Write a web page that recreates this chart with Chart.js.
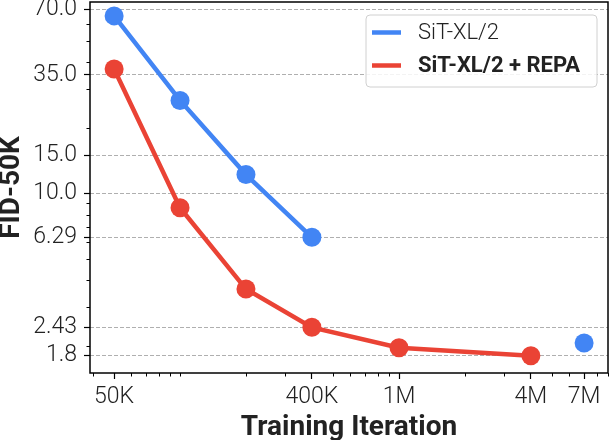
<!DOCTYPE html>
<html>
<head>
<meta charset="utf-8">
<script src="https://cdn.jsdelivr.net/npm/chart.js@4.4.1/dist/chart.umd.min.js"></script>
<style>
  html, body { margin: 0; padding: 0; background: #fff; }
  #wrap { width: 612px; height: 440px; }
</style>
</head>
<body>
<div id="wrap"><canvas id="fidChart"></canvas></div>
<script>
// values
const sitIters = [50000, 100000, 200000, 400000];
const sitFid = [65.2, 26.7, 12.2, 6.29];
const sitLongIters = [7000000];
const sitLongFid = [2.06];
const repaIters = [50000, 100000, 200000, 400000, 1000000, 4000000];
const repaFid = [37.2, 8.6, 3.64, 2.43, 1.96, 1.8];

const seriesNames = ['SiT-XL/2', 'SiT-XL/2 + REPA'];
const blue = '#4285F4';
const red = '#EA4335';

const yTickValues = [1.8, 2.43, 6.29, 10, 15, 35, 70];
const yTickLabels = ['1.8', '2.43', '6.29', '10.0', '15.0', '35.0', '70.0'];
const xTickValues = [50000, 400000, 1000000, 4000000, 7000000];
const xTickLabels = ['50K', '400K', '1M', '4M', '7M'];

const yMin = 1.5, yMax = 75.5;
const xMin = 38800, xMax = 9000000;

const textColor = '#222';
const fontFamily = 'Roboto, "DejaVu Sans", sans-serif';

function toPoints(xs, ys) {
    return xs.map((x, i) => ({ x: x, y: ys[i] }));
}

// log minor ticks (2..9 per decade), like matplotlib
function minorTicks(min, max, majors) {
    const out = [];
    for (let d = Math.floor(Math.log10(min)); d <= Math.ceil(Math.log10(max)); d++) {
        for (let m = 1; m <= 9; m++) {
            const v = m * Math.pow(10, d);
            if (v >= min && v <= max && !majors.includes(v)) out.push(v);
        }
    }
    return out;
}

const frameAndTicks = {
    id: 'frameAndTicks',
    afterDraw(chart) {
        const { ctx, chartArea } = chart;
        const xs = chart.scales.x, ys = chart.scales.y;
        ctx.save();
        ctx.strokeStyle = '#000';
        ctx.lineWidth = 1;
        ctx.beginPath();
        minorTicks(xMin, xMax, xTickValues).forEach(v => {
            const px = Math.round(xs.getPixelForValue(v)) + 0.5;
            ctx.moveTo(px, chartArea.bottom);
            ctx.lineTo(px, chartArea.bottom + 3.5);
        });
        minorTicks(yMin, yMax, yTickValues).forEach(v => {
            const py = Math.round(ys.getPixelForValue(v)) + 0.5;
            ctx.moveTo(chartArea.left, py);
            ctx.lineTo(chartArea.left - 3.5, py);
        });
        ctx.stroke();
        ctx.lineWidth = 1.5;
        ctx.strokeRect(chartArea.left, chartArea.top, chartArea.right - chartArea.left, chartArea.bottom - chartArea.top);
        ctx.restore();
    }
};

const legendBox = {
    id: 'legendBox',
    afterDraw(chart) {
        const { ctx, chartArea } = chart;
        const w = 231, h = 72;
        const bx = chartArea.right - 11 - w, by = chartArea.top + 13;
        ctx.save();
        ctx.beginPath();
        ctx.roundRect(bx, by, w, h, 4);
        ctx.fillStyle = 'rgba(255,255,255,0.85)';
        ctx.fill();
        ctx.strokeStyle = '#d0d0d0';
        ctx.lineWidth = 1;
        ctx.stroke();
        const colors = [blue, red];
        const weights = ['300', 'bold'];
        seriesNames.forEach((name, i) => {
            const cy = by + 17.5 + i * 33;
            ctx.strokeStyle = colors[i];
            ctx.lineWidth = 4.5;
            ctx.beginPath();
            ctx.moveTo(bx + 6, cy);
            ctx.lineTo(bx + 35, cy);
            ctx.stroke();
            ctx.fillStyle = textColor;
            ctx.font = weights[i] + ' 22px ' + fontFamily;
            ctx.textBaseline = 'middle';
            ctx.textAlign = 'left';
            ctx.fillText(name, bx + 52, cy + 1);
        });
        ctx.restore();
    }
};

window.onload = () => {
    const ctx = document.getElementById('fidChart').getContext('2d');
    new Chart(ctx, {
        type: 'line',
        data: {
            datasets: [{
                label: seriesNames[0],
                data: toPoints(sitIters, sitFid),
                borderColor: blue,
                backgroundColor: blue,
                borderWidth: 4.5,
                pointRadius: 9.5,
                pointBorderWidth: 0,
                pointBackgroundColor: blue
            }, {
                label: seriesNames[0] + ' (7M)',
                data: toPoints(sitLongIters, sitLongFid),
                showLine: false,
                borderColor: blue,
                backgroundColor: blue,
                pointRadius: 9.5,
                pointBorderWidth: 0,
                pointBackgroundColor: blue
            }, {
                label: seriesNames[1],
                data: toPoints(repaIters, repaFid),
                borderColor: red,
                backgroundColor: red,
                borderWidth: 4.5,
                pointRadius: 9.5,
                pointBorderWidth: 0,
                pointBackgroundColor: red
            }]
        },
        options: {
            responsive: true,
            maintainAspectRatio: false,
            animation: false,
            layout: { autoPadding: false, padding: { left: 0, top: 2, right: 4, bottom: 0 } },
            plugins: {
                legend: { display: false },
                tooltip: { enabled: false }
            },
            scales: {
                x: {
                    type: 'logarithmic',
                    min: xMin,
                    max: xMax,
                    afterBuildTicks: scale => {
                        scale.ticks = xTickValues.map(v => ({ value: v }));
                    },
                    afterFit: scale => {
                        scale.height = 67;
                        scale.paddingLeft = 0;
                        scale.paddingRight = 0;
                    },
                    ticks: {
                        autoSkip: false,
                        maxRotation: 0,
                        padding: 4,
                        color: textColor,
                        font: { family: fontFamily, size: 23, weight: '300' },
                        callback: (value, index) => xTickLabels[index]
                    },
                    grid: {
                        drawOnChartArea: false,
                        drawTicks: true,
                        tickLength: 6,
                        tickColor: '#000',
                        tickWidth: 1.2
                    },
                    border: { display: false },
                    title: {
                        display: true,
                        text: 'Training Iteration',
                        color: textColor,
                        font: { family: fontFamily, size: 28, weight: 'bold', lineHeight: 1 },
                        padding: { top: 0, bottom: -2 }
                    }
                },
                y: {
                    type: 'logarithmic',
                    min: yMin,
                    max: yMax,
                    afterBuildTicks: scale => {
                        scale.ticks = yTickValues.map(v => ({ value: v }));
                    },
                    afterFit: scale => {
                        scale.width = 90;
                        scale.paddingTop = 0;
                        scale.paddingBottom = 0;
                    },
                    ticks: {
                        autoSkip: false,
                        padding: 7,
                        color: textColor,
                        font: { family: fontFamily, size: 23, weight: '300' },
                        callback: (value, index) => yTickLabels[index]
                    },
                    grid: {
                        drawOnChartArea: true,
                        color: '#9a9a9a',
                        lineWidth: 0.8,
                        drawTicks: true,
                        tickLength: 6,
                        tickColor: '#000',
                        tickWidth: 1.2
                    },
                    border: { display: false, dash: [4, 2] },
                    title: {
                        display: true,
                        text: 'FID-50K',
                        color: textColor,
                        font: { family: fontFamily, size: 28, weight: 'bold', lineHeight: 1 },
                        padding: { top: -2, bottom: 0 }
                    }
                }
            }
        },
        plugins: [frameAndTicks, legendBox]
    });
};
</script>
</body>
</html>
